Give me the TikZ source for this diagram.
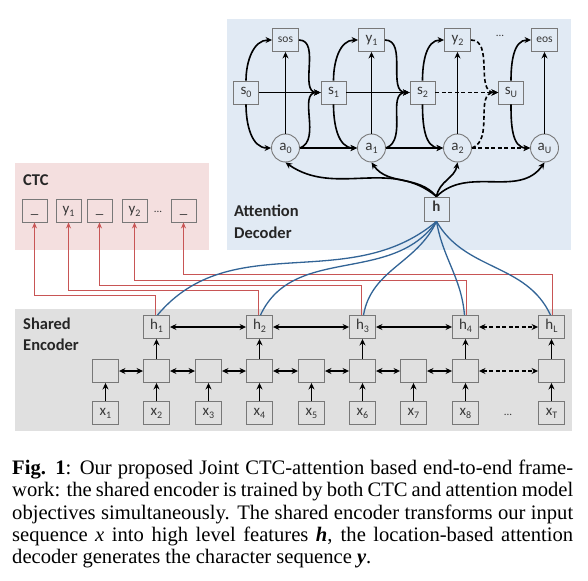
\documentclass[tikz,border=0pt]{standalone}
\usepackage{fontspec}
\setmainfont{Liberation Serif}
\newfontfamily\lab{Carlito}
\usetikzlibrary{arrows.meta}
\definecolor{bluebg}{RGB}{225,234,244}
\definecolor{pinkbg}{RGB}{244,223,223}
\definecolor{graybg}{RGB}{224,224,224}
\definecolor{boxgray}{RGB}{120,120,120}
\definecolor{txt}{RGB}{55,55,55}
\definecolor{redl}{RGB}{200,85,85}
\definecolor{bluel}{RGB}{50,100,150}
\newcommand\subs[1]{\raisebox{-3pt}{\fontsize{10}{10}\selectfont #1}}
\begin{document}
\begin{tikzpicture}[x=1pt,y=1pt,
 box/.style={draw=boxgray, line width=0.9pt, minimum width=26pt, minimum height=23pt, inner sep=0pt, text height=8pt, text depth=3pt, font=\lab\fontsize{15}{15}\selectfont, text=txt},
 sbox/.style={box, font=\lab\fontsize{11.5}{12}\selectfont},
 circ/.style={circle, draw=boxgray, line width=0.9pt, minimum size=28pt, inner sep=0pt, text height=8pt, text depth=3pt, font=\lab\fontsize{15}{15}\selectfont, text=txt},
 arr/.style={line width=1.6pt, -{Stealth[length=6.5pt,width=6pt]}},
 darr/.style={line width=1.6pt, {Stealth[length=6.5pt,width=6pt]}-{Stealth[length=6.5pt,width=6pt]}},
 dsh/.style={dash pattern=on 4pt off 2.5pt},
 ctc/.style={draw=redl, line width=1.3pt, -{Stealth[length=6pt,width=5pt]}},
 att/.style={draw=bluel, line width=1.3pt},
 title/.style={font=\lab\bfseries\fontsize{16.5}{21.5}\selectfont, text=black!85, align=left, inner sep=0pt, anchor=west},
 dots/.style={font=\lab\fontsize{11}{11}\selectfont, text=txt, inner sep=0pt}
]
\useasboundingbox (0,0) rectangle (588,-580);
% backgrounds
\fill[bluebg] (227,-19) rectangle (571,-250);
\fill[pinkbg] (15,-163) rectangle (209,-250);
\fill[graybg] (15,-309) rectangle (572,-431);
% titles
\node[title] (tctc) at (23,-180) {CTC};
\node[title] (tatt) at (234,-222) {Attention\\Decoder};
\node[title] (tenc) at (23,-334.5) {Shared\\Encoder};
% decoder nodes
\node[sbox] (sos) at (285.5,-40) {sos};
\node[box] (y1) at (371.5,-40) {y\subs{1}};
\node[box] (y2) at (457.5,-40) {y\subs{2}};
\node[dots] (ddots) at (500,-36) {...};
\node[sbox] (eos) at (544.5,-40) {eos};
\node[box,minimum width=25pt] (s0) at (246,-92.5) {s\subs{0}};
\node[box,minimum width=25pt] (s1) at (333.5,-92.5) {s\subs{1}};
\node[box,minimum width=25pt] (s2) at (422.5,-92.5) {s\subs{2}};
\node[box,minimum width=25pt] (sU) at (511,-92.5) {s\subs{U}};
\node[circ] (a0) at (285.5,-148) {a\subs{0}};
\node[circ] (a1) at (371.5,-148) {a\subs{1}};
\node[circ] (a2) at (457.5,-148) {a\subs{2}};
\node[circ] (aU) at (544.5,-148) {a\subs{U}};
\node[box,minimum width=25pt,minimum height=24pt,font=\lab\bfseries\fontsize{15}{15}\selectfont] (h) at (436.5,-209) {h};
% decoder arrows column 0
\draw[arr] (s0) -- (s1);
\draw[arr] (s0.north) to[out=90,in=180] (sos.west);
\draw[arr] (s0.south) to[out=-90,in=180] (a0.west);
\draw[arr] (sos.east) to[out=0,in=180] (s1.west);
\draw[arr] (a0.east) to[out=20,in=180] (s1.west);
\draw[arr] (a0) -- (sos);
\draw[arr] (a0) -- (a1);
% column 1
\draw[arr] (s1) -- (s2);
\draw[arr] (s1.north) to[out=90,in=180] (y1.west);
\draw[arr] (s1.south) to[out=-90,in=180] (a1.west);
\draw[arr] (y1.east) to[out=0,in=180] (s2.west);
\draw[arr] (a1.east) to[out=20,in=180] (s2.west);
\draw[arr] (a1) -- (y1);
\draw[arr] (a1) -- (a2);
% column 2
\draw[arr,dsh] (s2) -- (sU);
\draw[arr] (s2.north) to[out=90,in=180] (y2.west);
\draw[arr] (s2.south) to[out=-90,in=180] (a2.west);
\draw[arr,dsh] (y2.east) to[out=0,in=180] (sU.west);
\draw[arr,dsh] (a2.east) to[out=20,in=180] (sU.west);
\draw[arr] (a2) -- (y2);
\draw[arr,dsh] (a2) -- (aU);
% column U
\draw[arr] (sU.north) to[out=90,in=180] (eos.west);
\draw[arr] (sU.south) to[out=-90,in=180] (aU.west);
\draw[arr] (aU) -- (eos);
% h to attention
\draw[arr] (h.north) to[out=140,in=-35] (a0.south);
\draw[arr] (h.north) to[out=130,in=-55] (a1.south);
\draw[arr] (h.north) to[out=80,in=-100] (a2.south);
\draw[arr] (h.north) to[out=45,in=-125] (aU.south);
% CTC nodes
\node[box,minimum width=25pt] (c1) at (34.5,-210.5) {\_};
\node[box,minimum width=25pt] (c2) at (68.5,-210.5) {y\subs{1}};
\node[box,minimum width=25pt] (c3) at (99.5,-210.5) {\_};
\node[box,minimum width=25pt] (c4) at (134.5,-210.5) {y\subs{2}};
\node[dots] (cdots) at (158,-212) {...};
\node[box,minimum width=25pt] (c5) at (183.5,-210.5) {\_};
% encoder nodes
\foreach \k/\x/\l in {1/105.5/1,2/156.5/2,3/208.5/3,4/259.5/4,5/311.5/5,6/362.5/6,7/413.5/7,8/465.5/8,9/551.5/T}{
  \node[box] (e\k) at (\x,-371) {};
  \node[box] (x\k) at (\x,-413.3) {x\subs{\l}};
  \draw[arr] (x\k) -- (e\k);
}
\node[dots] (edots) at (508,-415) {...};
\foreach \k in {1,...,7}{
  \pgfmathtruncatemacro\n{\k+1}
  \draw[darr] (e\k) -- (e\n);
}
\draw[darr,dsh] (e8) -- (e9);
\node[box] (hh1) at (156.5,-327) {h\subs{1}};
\node[box] (hh2) at (259.5,-327) {h\subs{2}};
\node[box] (hh3) at (362.5,-327) {h\subs{3}};
\node[box] (hh4) at (465.5,-327) {h\subs{4}};
\node[box] (hh5) at (551.5,-327) {h\subs{L}};
\draw[arr] (e2) -- (hh1);
\draw[arr] (e4) -- (hh2);
\draw[arr] (e6) -- (hh3);
\draw[arr] (e8) -- (hh4);
\draw[arr] (e9) -- (hh5);
\draw[darr] (hh1) -- (hh2);
\draw[darr] (hh2) -- (hh3);
\draw[darr] (hh3) -- (hh4);
\draw[darr,dsh] (hh4) -- (hh5);
% CTC red connectors
\coordinate (r1) at ([xshift=-1pt]hh1.north);
\coordinate (r2) at ([xshift=-1pt]hh2.north);
\coordinate (r3) at ([xshift=-1pt]hh3.north);
\coordinate (r4) at ([xshift=1pt]hh4.north);
\coordinate (r5) at ([xshift=1pt]hh5.north);
\draw[ctc] (r1) |- (c1.south |- 0,-295.5) -- (c1.south);
\draw[ctc] (r2) |- (c2.south |- 0,-290.5) -- (c2.south);
\draw[ctc] (r3) |- (c3.south |- 0,-285.5) -- (c3.south);
\draw[ctc] (r4) |- (c4.south |- 0,-280.5) -- (c4.south);
\draw[ctc] (r5) |- (c5.south |- 0,-274.5) -- (c5.south);
% attention blue connectors
\coordinate (b1) at ([xshift=1pt]hh1.north);
\coordinate (b2) at ([xshift=1pt]hh2.north);
\coordinate (b3) at ([xshift=1pt]hh3.north);
\coordinate (b4) at ([xshift=-1pt]hh4.north);
\coordinate (b5) at ([xshift=-1pt]hh5.north);
\draw[att] (h.south) to[out=-140,in=50] (b1);
\draw[att] (h.south) to[out=-125,in=65] (b2);
\draw[att] (h.south) to[out=-115,in=80] (b3);
\draw[att] (h.south) to[out=-80,in=95] (b4);
\draw[att] (h.south) to[out=-60,in=115] (b5);
% caption
\node[anchor=north west, inner sep=0pt, text width=561pt, align=justify, font=\fontsize{20.6}{22.25}\selectfont] (cap) at (12,-460)
{\textbf{Fig. 1}: Our proposed Joint CTC-attention based end-to-end frame-\linebreak
work: the shared encoder is trained by both CTC and attention model\linebreak
objectives simultaneously. The shared encoder transforms our input\linebreak
sequence \textit{x} into high level features \textbf{\textit{h}}, the location-based attention\linebreak
decoder generates the character sequence \textbf{\textit{y}}.};
\end{tikzpicture}
\end{document}
